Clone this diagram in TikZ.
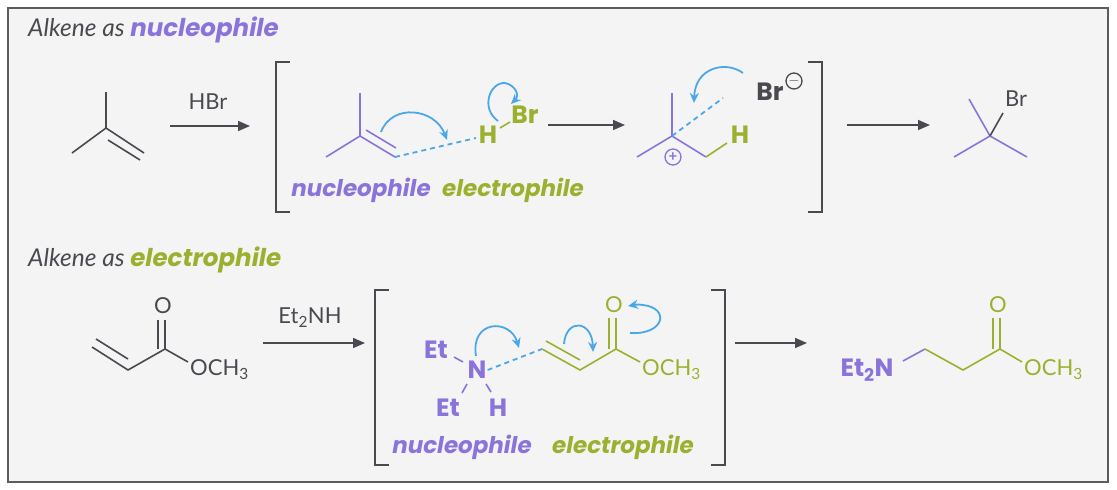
\documentclass[tikz,border=0pt]{standalone}
\usepackage{fontspec}
\setmainfont{Lato}
\newfontfamily\popp{Poppins}
\usetikzlibrary{arrows.meta}
\definecolor{pur}{HTML}{8A73DB}
\definecolor{grn}{HTML}{9BB02E}
\definecolor{blu}{HTML}{4AA8E8}
\definecolor{drk}{HTML}{4A4950}
\definecolor{bgc}{HTML}{F4F4F4}
\begin{document}
\begin{tikzpicture}[x=1pt,y=-1pt,
  bond/.style={line width=1.6pt},
  rxn/.style={line width=1.6pt,draw=drk,-{Triangle[length=12pt,width=10pt]}},
  brk/.style={line width=1.6pt,draw=drk},
  curly/.style={line width=1.8pt,draw=blu,-{Stealth[length=10pt,width=9pt]}},
  dsh/.style={line width=1.8pt,draw=blu,dash pattern=on 5pt off 4pt},
  lab/.style={font=\fontsize{22}{22}\selectfont,inner sep=1pt},
  atom/.style={font=\popp\bfseries\fontsize{25}{25}\selectfont,inner sep=1pt},
  role/.style={font=\popp\fontsize{23}{23}\selectfont\bfseries\itshape,inner sep=0pt},
  ttl/.style={font=\fontsize{24.5}{25}\selectfont\itshape,anchor=west,inner sep=0pt}]
\useasboundingbox (0,0) rectangle (1117,490);
\draw[line width=2pt,draw=drk!90,fill=bgc] (8,8) rectangle (1108,482);
% titles
\node[ttl,text=drk] (t1) at (28,30) {Alkene as \textcolor{pur}{\popp\bfseries nucleophile}};
\node[ttl,text=drk] (t2) at (28,260) {Alkene as \textcolor{grn}{\popp\bfseries electrophile}};
% ---- top row
\draw[bond,drk] (106,92)--(106,128)--(72,153);
\draw[bond,drk] (106,128)--(144,153);
\draw[bond,drk] (108,140)--(140,160);
\node[lab,text=drk] (hbr) at (208,102) {HBr};
\coordinate (a1s) at (170,126); \coordinate (a1e) at (250,126);
\draw[rxn] (a1s)--(a1e);
\draw[brk] (290,62)--(276,62)--(276,212)--(290,212);
\draw[brk] (808,62)--(822,62)--(822,212)--(808,212);
% intermediate 1
\draw[bond,pur] (360,93)--(360,136)--(326,157);
\draw[bond,pur] (360,136)--(395,157);
\draw[bond,pur] (366,130)--(396,148);
\coordinate (dd1) at (395,157);
\node[atom,text=grn] (h1) at (488,135) {H};
\node[atom,text=grn] (br1) at (525,115) {Br};
\draw[bond,grn] (500,128)--(510,122);
\draw[dsh] (dd1)--(476,138);
\draw[curly] (381,132) .. controls (392,103) and (435,108) .. (447,140);
\draw[curly] (498,121) .. controls (480,108) and (490,82) .. (505,83) .. controls (515,85) and (520,95) .. (511,104);
\node[role,text=pur] (nu1) at (361,190) {nucleophile};
\node[role,text=grn] (el1) at (513,190) {electrophile};
\draw[rxn] (548,125)--(625,125);
% intermediate 2
\draw[bond,pur] (672,93)--(672,136)--(637,157);
\draw[bond,pur] (672,136)--(706,157);
\draw[bond,grn] (706,157)--(727,143);
\node[atom,text=grn] (h2) at (740,135) {H};
\node[draw=pur,line width=1.3pt,circle,minimum size=16pt,inner sep=0pt,text=pur,font=\bfseries\fontsize{15}{15}\selectfont] (plus) at (673,157) {+};
\node[atom,text=drk] (br2) at (770,92) {Br};
\node[draw=drk,line width=1.3pt,circle,minimum size=16pt,inner sep=0pt,text=drk,font=\bfseries\fontsize{15}{15}\selectfont] (minus) at (794,81) {$-$};
\coordinate (c2) at (672,136);
\coordinate (c2e) at (723,98);
\draw[dsh] (c2)--(c2e);
\draw[curly] (743,73) .. controls (725,60) and (695,68) .. (694,103);
\draw[rxn] (847,125)--(930,125);
% product 1
\draw[bond,pur] (969,99)--(990,136)--(954,157);
\draw[bond,pur] (990,136)--(1027,157);
\draw[bond,drk] (990,136)--(1003,113);
\node[lab,text=drk] (br3) at (1016,99) {Br};
% ---- bottom row
\draw[bond,drk] (92,347)--(128,370)--(165,349)--(165,320);
\draw[bond,drk] (96,339)--(128,359);
\draw[bond,drk] (158,349)--(158,320);
\draw[bond,drk] (165,349)--(188,362);
\node[lab,text=drk] (o1) at (163,306) {O};
\node[lab,text=drk,anchor=west,inner sep=0pt] (ome1) at (190,370) {OCH\textsubscript{3}};
\node[lab,text=drk] (et2nh) at (310,318) {Et\textsubscript{2}NH};
\draw[rxn] (263,343)--(365,343);
\draw[brk] (389,290)--(375,290)--(375,465)--(389,465);
\draw[brk] (711,290)--(725,290)--(725,465)--(711,465);
% intermediate bottom
\node[atom,text=pur] (n1) at (477,370) {N};
\node[atom,text=pur] (et1) at (436,350) {Et};
\node[atom,text=pur] (et2) at (448,408) {Et};
\node[atom,text=pur] (hn) at (498,408) {H};
\draw[bond,pur] (454,357)--(463,362);
\draw[bond,pur] (467,384)--(462,393);
\draw[bond,pur] (486,384)--(491,392);
\coordinate (al1) at (542,349);
\draw[dsh] (n1.east)--(al1);
\draw[bond,grn] (al1)--(580,370)--(616,349)--(616,318);
\draw[bond,grn] (546,341)--(580,360);
\draw[bond,grn] (609,349)--(609,318);
\draw[bond,grn] (616,349)--(640,362);
\node[lab,text=grn] (o2) at (614,305) {O};
\node[lab,text=grn,anchor=west,inner sep=0pt] (ome2) at (642,370) {OCH\textsubscript{3}};
\draw[curly] (476,356) .. controls (470,320) and (510,318) .. (519,348);
\draw[curly] (564,344) .. controls (566,318) and (592,320) .. (593,352);
\draw[curly] (630,333) .. controls (665,335) and (670,308) .. (643,305) .. controls (638,304) and (634,305) .. (628,306);
\node[role,text=pur] (nu2) at (462,447) {nucleophile};
\node[role,text=grn] (el2) at (623,447) {electrophile};
\draw[rxn] (735,343)--(807,343);
% product 2
\node[atom,text=pur] (et2n) at (867,370) {Et\textsubscript{2}N};
\draw[bond,pur] (903,361)--(925,349);
\draw[bond,grn] (925,349)--(963,370)--(1000,349)--(1000,318);
\draw[bond,grn] (993,349)--(993,318);
\draw[bond,grn] (1000,349)--(1022,362);
\node[lab,text=grn] (o3) at (998,305) {O};
\node[lab,text=grn,anchor=west,inner sep=0pt] (ome3) at (1024,370) {OCH\textsubscript{3}};
\end{tikzpicture}
\end{document}
